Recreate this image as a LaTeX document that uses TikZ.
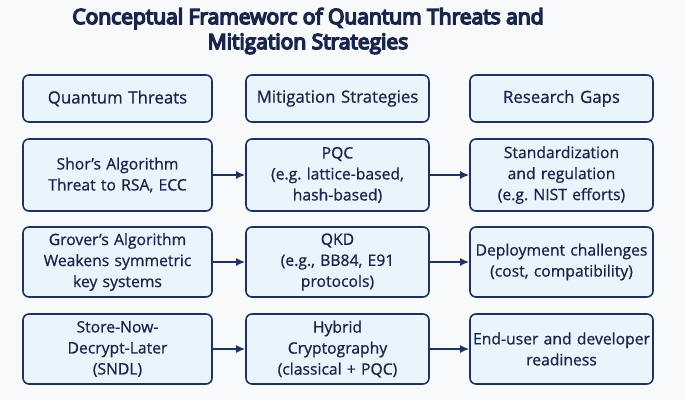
\documentclass[tikz,border=0pt]{standalone}
\usepackage{fontspec}
\setmainfont{Open Sans}
\newfontfamily\titlefont{Open Sans}[FakeBold=7]
\newfontfamily\cellfont{Open Sans}[FakeBold=0.8]
\usepackage{xcolor}
\usepackage{tikz}
\usetikzlibrary{arrows.meta,positioning}
\frenchspacing
\definecolor{qtNavy}{RGB}{24,38,74}
\definecolor{qtBorder}{RGB}{30,50,94}
\definecolor{qtFill}{RGB}{233,244,253}
\definecolor{qtBack}{RGB}{248,249,250}

\begin{document}
\begin{tikzpicture}[x=1pt,y=-1pt,
  cellbox/.style={draw=qtBorder, fill=qtFill, line width=1.6pt, rounded corners=6pt,
    text=qtNavy, align=center, inner xsep=0pt, minimum height=70pt,
    font=\cellfont\fontsize{15.7}{21}\selectfont},
  hdrbox/.style={cellbox, minimum height=47pt, font=\cellfont\fontsize{16.8}{20}\selectfont},
  flowarrow/.style={draw=qtBorder, line width=1.6pt, -{Latex[length=9pt,width=8pt]}}]
\fill[qtBack] (0,0) rectangle (685,400);
\useasboundingbox (0,0) rectangle (685,400);
\node[text=qtNavy, align=center, font=\titlefont\fontsize{21}{25}\selectfont] (title) at (308,31)
  {Conceptual Frameworc of Quantum Threats and\\Mitigation Strategies};
% column headers
\node[hdrbox, text width=189pt] (threats) at (117.5,98.5) {Quantum Threats};
\node[hdrbox, text width=183pt] (mitig) at (337.5,98.5) {Mitigation Strategies};
\node[hdrbox, text width=183pt] (gaps) at (561.5,98.5) {Research Gaps};
% row 1
\node[cellbox, text width=189pt, minimum height=72pt] (shor) at (117.5,175) {Shor’s Algorithm\\Threat to RSA, ECC};
\node[cellbox, text width=183pt, minimum height=72pt] (pqc) at (337.5,175) {PQC\\(e.g. lattice-based,\\hash-based)};
\node[cellbox, text width=183pt, minimum height=72pt] (std) at (561.5,175) {Standardization\\and regulation\\(e.g. NIST efforts)};
% row 2
\node[cellbox, text width=189pt] (grover) at (117.5,262) {Grover’s Algorithm\\Weakens symmetric\\key systems};
\node[cellbox, text width=183pt] (qkd) at (337.5,262) {QKD\\(e.g., BB84, E91\\protocols)};
\node[cellbox, text width=183pt] (deploy) at (561.5,262) {Deployment challenges\\(cost, compatibility)\\[4pt]};
% row 3
\node[cellbox, text width=189pt] (sndl) at (117.5,349) {Store-Now-\\Decrypt-Later\\(SNDL)};
\node[cellbox, text width=183pt] (hybrid) at (337.5,349) {Hybrid\\Cryptography\\(classical + PQC)};
\node[cellbox, text width=183pt] (enduser) at (561.5,349) {End-user and developer\\readiness\\[4pt]};
% arrows
\foreach \a/\b in {shor/pqc, pqc/std, grover/qkd, qkd/deploy, sndl/hybrid, hybrid/enduser}
  \draw[flowarrow] (\a) -- (\b);
\end{tikzpicture}
\end{document}
